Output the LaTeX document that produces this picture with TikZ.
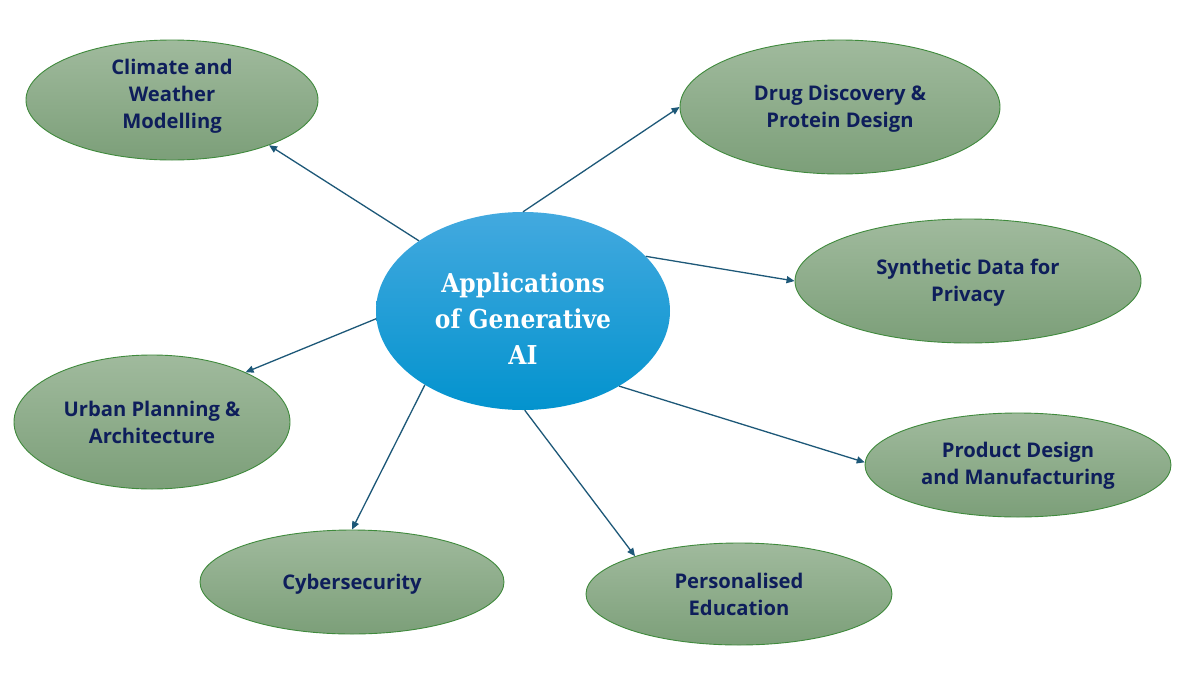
\documentclass[tikz,border=0pt]{standalone}
\usepackage{fontspec}
\usetikzlibrary{shapes.geometric,arrows.meta}
\newfontfamily\topicfont{Open Sans}
\newfontfamily\hubfont{DejaVu Serif Condensed}
\definecolor{leafTop}{HTML}{A0BA9D}
\definecolor{leafBot}{HTML}{7C9F79}
\definecolor{leafLine}{HTML}{3F8A3C}
\definecolor{leafText}{HTML}{0E1E5B}
\definecolor{hubTop}{HTML}{43A9DF}
\definecolor{hubBot}{HTML}{0393CE}
\definecolor{linkCol}{HTML}{1D5878}
\tikzset{
  topictext/.style={inner sep=0pt, align=center, text=leafText,
    font=\topicfont\bfseries\fontsize{20.2}{27}\selectfont},
  topic/.style={ellipse, draw=leafLine, line width=0.9pt, top color=leafTop, bottom color=leafBot},
  hubtext/.style={inner sep=0pt, align=center, text=white,
    font=\hubfont\bfseries\fontsize{26}{36}\selectfont},
  hub/.style={ellipse, draw=none, top color=hubTop, bottom color=hubBot, inner sep=0pt},
  link/.style={draw=linkCol, line width=1.3pt, -{Triangle[length=8pt,width=7pt]}}
}
\begin{document}
\begin{tikzpicture}[x=1pt,y=-1pt]
\useasboundingbox (0,0) rectangle (1200,675);
\fill[white] (0,0) rectangle (1200,675);

% central topic
\node[hub, minimum width=294, minimum height=198] (hubnode) at (523,311) {};
\node[hubtext] (hublabel) at ([yshift=-8]hubnode.center) {Applications\\of Generative\\AI};

% application areas: ellipse first, its label on top
\node[topic, minimum width=292, minimum height=120] (climate) at (172,100) {};
\node[topictext] (climatelabel) at ([yshift=4]climate.center) {Climate and\\Weather\\Modelling};

\node[topic, minimum width=320, minimum height=134] (drug) at (840,107) {};
\node[topictext] (druglabel) at ([yshift=-2]drug.center) {Drug Discovery \&\\Protein Design};

\node[topic, minimum width=346, minimum height=124] (synth) at (968,281) {};
\node[topictext] (synthlabel) at ([yshift=-2]synth.center) {Synthetic Data for\\Privacy};

\node[topic, minimum width=276, minimum height=134] (urban) at (152,422) {};
\node[topictext] (urbanlabel) at (urban.center) {Urban Planning \&\\Architecture};

\node[topic, minimum width=306, minimum height=104] (product) at (1018,465) {};
\node[topictext] (productlabel) at ([yshift=-1]product.center) {Product Design\\and Manufacturing};

\node[topic, minimum width=304, minimum height=104] (cyber) at (352,582) {};
\node[topictext] (cyberlabel) at ([yshift=-2]cyber.center) {Cybersecurity};

\node[topic, minimum width=306, minimum height=102] (edu) at (739,594) {};
\node[topictext] (edulabel) at (edu.center) {Personalised\\Education};

% connectors
\draw[link] (hubnode.146) -- (climate.-25);
\draw[link] (hubnode.90.6) -- (drug.180);
\draw[link] (hubnode.24) -- (synth.180);
\draw[link] (hubnode.183) -- (urban.28);
\draw[link] (hubnode.-38) -- (product.179);
\draw[link] (hubnode.217.6) -- (cyber.90);
\draw[link] (hubnode.-89.5) -- (edu.160);
\end{tikzpicture}
\end{document}
